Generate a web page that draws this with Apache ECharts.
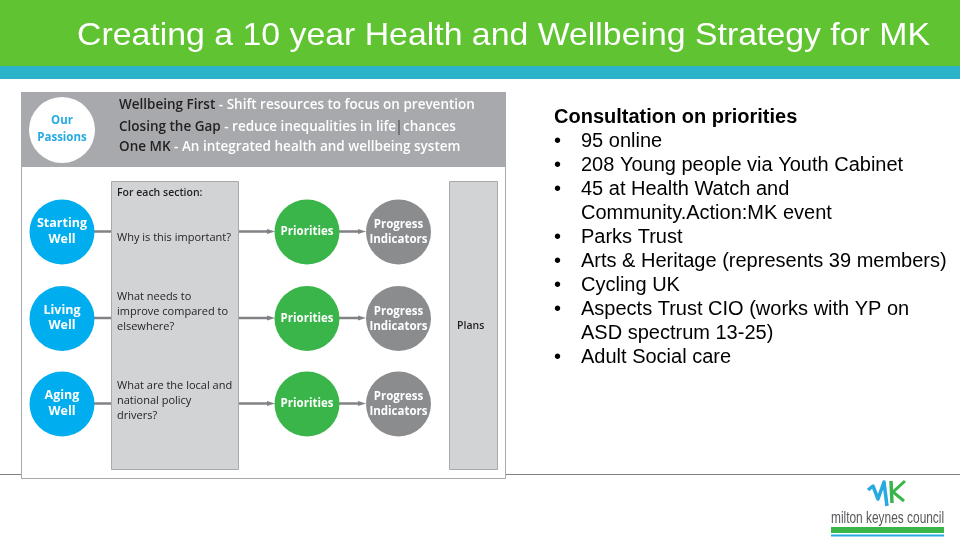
<!DOCTYPE html>
<html>
<head>
<meta charset="utf-8">
<title>10 year Health and Wellbeing Strategy</title>
<script src="https://cdn.jsdelivr.net/npm/echarts@6/dist/echarts.min.js"></script>
<style>
  html, body { margin: 0; padding: 0; background: #fff; }
  #main { width: 960px; height: 540px; }
</style>
</head>
<body>
<div id="main"></div>
<script>
var titleText = 'Creating a 10 year Health and Wellbeing Strategy for MK';
var passionsLabel = ['Our', 'Passions'];
var passions = [
    ['Wellbeing First', ' - Shift resources to focus on prevention'],
    ['Closing the Gap', ' - reduce inequalities in life  chances'],
    ['One MK', ' - An integrated health and wellbeing system']
];
var sections = ['Starting\nWell', 'Living\nWell', 'Aging\nWell'];
var questions = ['Why is this important?', 'What needs to\nimprove compared to\nelsewhere?', 'What are the local and\nnational policy\ndrivers?'];
var consultationHeading = 'Consultation on priorities';
var consultation = [
    ['95 online'],
    ['208 Young people via Youth Cabinet'],
    ['45 at Health Watch and', 'Community.Action:MK event'],
    ['Parks Trust'],
    ['Arts & Heritage (represents 39 members)'],
    ['Cycling UK'],
    ['Aspects Trust CIO (works with YP on', 'ASD spectrum 13-25)'],
    ['Adult Social care']
];

var diagramFont = '"Open Sans", sans-serif';
var slideFont = '"Liberation Sans", Arial, sans-serif';
var rowY = [232, 318.5, 404];
var questionY = [238, 312, 401];

var myChart = echarts.init(document.getElementById('main'), null, {renderer: 'canvas'});
var els = [];

function rect(x, y, w, h, fill, stroke) {
    els.push({type: 'rect', shape: {x: x, y: y, width: w, height: h},
        style: {fill: fill, stroke: stroke || null, lineWidth: 1}});
}

function circle(cx, cy, r, fill) {
    els.push({type: 'circle', shape: {cx: cx, cy: cy, r: r}, style: {fill: fill}});
}

function line(x1, y1, x2, y2, color, width) {
    els.push({type: 'line', shape: {x1: x1, y1: y1, x2: x2, y2: y2},
        style: {stroke: color, lineWidth: width}});
}

function text(str, x, y, font, fill, align, lineHeight) {
    els.push({type: 'text', style: {text: str, x: x, y: y, font: font, fill: fill,
        align: align || 'left', verticalAlign: 'middle', lineHeight: lineHeight}});
}

function arrow(x1, x2, y) {
    line(x1, y, x2 - 6, y, '#808285', 2.5);
    els.push({type: 'polygon', shape: {points: [[x2 - 8, y - 2.5], [x2, y], [x2 - 8, y + 2.5]]},
        style: {fill: '#808285'}});
}

// header bands
rect(0, 0, 960, 66, '#60c332');
rect(0, 66, 960, 13, '#2bb3c9');
// the title is stretched a little, the slide font runs wider than ours
els.push({type: 'text', x: 77, y: 36, scaleX: 1.057,
    style: {text: titleText, x: 0, y: 0, font: '32px ' + slideFont, fill: '#ffffff', verticalAlign: 'middle'}});

// footer rule, the picture sits on top of it
line(0, 474.5, 960, 474.5, '#808080', 1);

// strategy picture
rect(21.5, 92.5, 484, 386, '#ffffff', '#a7a9ac');
rect(21, 92, 485, 75, '#a7a9ac');
circle(62, 130, 33, '#ffffff');
text(passionsLabel[0], 62, 121, 'bold 11.5px ' + diagramFont, '#27aae1', 'center');
text(passionsLabel[1], 62, 138, 'bold 11.5px ' + diagramFont, '#27aae1', 'center');

var passionY = [105, 127, 147];
passions.forEach(function(row, i) {
    els.push({type: 'text', style: {
        text: '{a|' + row[0] + '}{b|' + row[1] + '}',
        x: 119, y: passionY[i], verticalAlign: 'middle',
        rich: {
            a: {font: '600 13.5px ' + diagramFont, fill: '#231f20'},
            b: {font: '600 13.5px ' + diagramFont, fill: '#ffffff'}
        }
    }});
});
line(399, 120, 399, 135, '#414042', 1);

// columns
rect(111.5, 181.5, 127, 288, '#d1d3d4', '#a7a9ac');
rect(449.5, 181.5, 48, 288, '#d1d3d4', '#a7a9ac');
text('For each section:', 117, 193, '600 10.5px ' + diagramFont, '#231f20');
text('Plans', 457, 326, '600 10.5px ' + diagramFont, '#231f20');

rowY.forEach(function(y, i) {
    var ly = y - 0.5;
    line(94, ly, 111, ly, '#808285', 2.5);
    arrow(239, 275, ly);
    arrow(339, 366, ly);
    circle(62, y, 32.5, '#00aeef');
    circle(307, y, 32.5, '#39b54a');
    circle(398.5, y, 32.5, '#8a8c8e');
    text(sections[i], 62, y - 0.5, 'bold 12.5px ' + diagramFont, '#ffffff', 'center', 15.5);
    text('Priorities', 307, y, 'bold 11.5px ' + diagramFont, '#ffffff', 'center');
    text('Progress\nIndicators', 398.5, y + 0.5, 'bold 11.5px ' + diagramFont, '#ffffff', 'center', 15);
    text(questions[i], 117, questionY[i], '11px ' + diagramFont, '#231f20', 'left', 15);
});

// consultation list
var listY = 117;
text(consultationHeading, 554, listY, 'bold 20px ' + slideFont, '#000000');
consultation.forEach(function(item) {
    item.forEach(function(str, j) {
        listY += 24;
        if (j === 0) {
            text('\u2022', 554, listY, '20px ' + slideFont, '#000000');
        }
        text(str, 581, listY, '20px ' + slideFont, '#000000');
    });
});

// council logo
els.push({type: 'polyline', shape: {points: [[868, 490], [873, 486], [878, 499], [884, 482], [887, 506]]},
    style: {stroke: '#27aae1', lineWidth: 3.5, fill: null, lineJoin: 'round'}});
els.push({type: 'polyline', shape: {points: [[891, 481], [892, 503]]},
    style: {stroke: '#39b54a', lineWidth: 3.5, fill: null}});
els.push({type: 'polyline', shape: {points: [[905, 481], [893, 492], [904, 501]]},
    style: {stroke: '#39b54a', lineWidth: 3, fill: null}});
els.push({type: 'text', x: 831, y: 518, scaleX: 0.7,
    style: {text: 'milton keynes council', x: 0, y: 0, font: '17px ' + slideFont, fill: '#58595b', verticalAlign: 'middle'}});
rect(831, 527, 113, 6, '#39b54a');
rect(831, 534.5, 113, 2, '#27aae1');

var option = {
    animation: false,
    backgroundColor: '#ffffff',
    graphic: {elements: els}
};

myChart.setOption(option);
</script>
</body>
</html>
